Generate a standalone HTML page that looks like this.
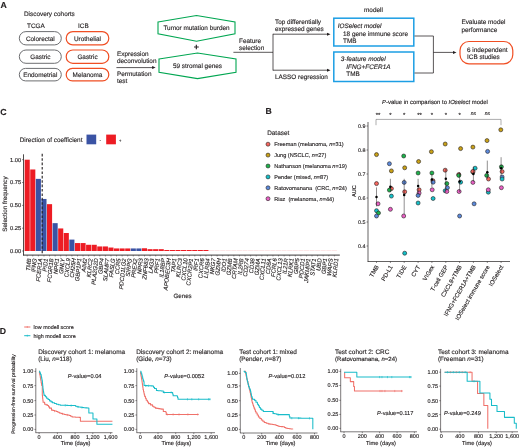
<!DOCTYPE html>
<html lang="en">
<head>
<meta charset="utf-8">
<title>Figure</title>
<style>
html,body{margin:0;padding:0;background:#fff;}
body{width:520px;height:448px;overflow:hidden;}
svg{display:block;}
svg text{font-family:"Liberation Sans",sans-serif;fill:#231f20;stroke:#231f20;stroke-width:0.14px;text-rendering:geometricPrecision;}
</style>
</head>
<body>
<svg width="520" height="448" viewBox="0 0 520 448">
<rect x="0" y="0" width="520" height="448" fill="#fff"/>
<g id="panelA">
<text x="0.5" y="7.9" font-size="8.7" font-weight="bold">A</text>
<text x="24" y="15.9" font-size="6.4">Discovery cohorts</text>
<text x="27" y="27.6" font-size="6.4">TCGA</text>
<text x="78" y="27.6" font-size="6.4">ICB</text>
<rect x="19.3" y="31.6" width="42" height="13.3" rx="6.65" fill="#fff" stroke="#6d6e71" stroke-width="1"/>
<text x="40.3" y="40.5" font-size="6.4" text-anchor="middle">Colorectal</text>
<rect x="66.2" y="31.6" width="42.6" height="13.3" rx="6.65" fill="#fff" stroke="#f04e23" stroke-width="1.2"/>
<text x="87.5" y="40.5" font-size="6.4" text-anchor="middle">Urothelial</text>
<rect x="19.3" y="50" width="42" height="13.3" rx="6.65" fill="#fff" stroke="#6d6e71" stroke-width="1"/>
<text x="40.3" y="58.9" font-size="6.4" text-anchor="middle">Gastric</text>
<rect x="66.2" y="50" width="42.6" height="13.3" rx="6.65" fill="#fff" stroke="#f04e23" stroke-width="1.2"/>
<text x="87.5" y="58.9" font-size="6.4" text-anchor="middle">Gastric</text>
<rect x="19.3" y="68.4" width="42" height="12.5" rx="6.25" fill="#fff" stroke="#6d6e71" stroke-width="1"/>
<text x="40.3" y="77.0" font-size="6.4" text-anchor="middle">Endometrial</text>
<rect x="66.2" y="68.4" width="42.6" height="12.5" rx="6.25" fill="#fff" stroke="#f04e23" stroke-width="1.2"/>
<text x="87.5" y="77.0" font-size="6.4" text-anchor="middle">Melanoma</text>
<text x="117" y="55.6" font-size="6.4">Expression</text>
<text x="117" y="63" font-size="6.4">deconvolution</text>
<line x1="116.4" y1="67.6" x2="153.6" y2="67.6" stroke="#231f20" stroke-width="0.75"/>
<polygon points="155.6,67.6 152.1,66.1 152.1,69.1" fill="#231f20"/>
<text x="117" y="76" font-size="6.4">Permutation</text>
<text x="117" y="83.2" font-size="6.4">test</text>
<polygon points="158,22 196.5,15.5 235,22 235,33.8 196.5,41.2 158,33.8" fill="#fff" stroke="#00a651" stroke-width="1.1"/>
<text x="196.5" y="30" font-size="6.4" text-anchor="middle">Tumor mutation burden</text>
<text x="196.5" y="49.6" font-size="9" text-anchor="middle" font-weight="bold">+</text>
<polygon points="159,59 197.5,53 236,59 236,72.3 197.5,78.6 159,72.3" fill="#fff" stroke="#00a651" stroke-width="1.1"/>
<text x="197.5" y="67.6" font-size="6.4" text-anchor="middle">59 stromal genes</text>
<text x="239" y="42.6" font-size="6.4">Feature</text>
<text x="239" y="50" font-size="6.4">selection</text>
<line x1="233.4" y1="52.3" x2="273" y2="52.3" stroke="#231f20" stroke-width="0.75"/>
<line x1="273" y1="33.85" x2="273" y2="70.55" stroke="#231f20" stroke-width="0.75"/>
<line x1="273" y1="34.2" x2="328.5" y2="34.2" stroke="#231f20" stroke-width="0.75"/>
<polygon points="330.5,34.2 327.0,32.7 327.0,35.7" fill="#231f20"/>
<line x1="273" y1="70.2" x2="328.5" y2="70.2" stroke="#231f20" stroke-width="0.75"/>
<polygon points="330.5,70.2 327.0,68.7 327.0,71.7" fill="#231f20"/>
<text x="275" y="23.6" font-size="6.4">Top differentially</text>
<text x="275" y="30.6" font-size="6.4">expressed genes</text>
<text x="275" y="78.8" font-size="6.4">LASSO regression</text>
<text x="364" y="12" font-size="6.4">modell</text>
<rect x="333.8" y="18.2" width="80" height="27.8" fill="#fff" stroke="#1c9ee4" stroke-width="1.5"/>
<rect x="333.8" y="52" width="80" height="29.5" fill="#fff" stroke="#1c9ee4" stroke-width="1.5"/>
<text x="337.7" y="28" font-size="6.4" font-style="italic">IOSelect model</text>
<text x="343" y="35.8" font-size="6.4">18 gene immune score</text>
<text x="343" y="43" font-size="6.4">TMB</text>
<text x="340.8" y="61.2" font-size="6.4" font-style="italic">3-feature model</text>
<text x="346.3" y="68.5" font-size="6.4" font-style="italic">IFNG+FCER1A</text>
<text x="346.3" y="76" font-size="6.4">TMB</text>
<polyline points="414.5,36 433.4,36 433.4,73 414.5,73" fill="none" stroke="#231f20" stroke-width="0.75"/>
<line x1="433.4" y1="52.4" x2="454.5" y2="52.4" stroke="#231f20" stroke-width="0.75"/>
<polygon points="456.5,52.4 453.0,50.9 453.0,53.9" fill="#231f20"/>
<text x="461.4" y="24.2" font-size="6.4">Evaluate model</text>
<text x="461.4" y="32" font-size="6.4">performance</text>
<rect x="460" y="41.5" width="52.8" height="22.3" rx="9" fill="#fff" stroke="#f04e23" stroke-width="1.2"/>
<text x="467" y="51.6" font-size="6.4">6 independent</text>
<text x="467" y="58.6" font-size="6.4">ICB studies</text>
</g>
<g id="panelC">
<text x="0.2" y="114.5" font-size="8.7" font-weight="bold">C</text>
<text x="19.7" y="142.2" font-size="6.4">Direction of coefficient</text>
<rect x="86.5" y="134.6" width="9.7" height="9.7" fill="#3a53a4"/>
<text x="100.3" y="141.5" font-size="5" text-anchor="middle">-</text>
<rect x="106.2" y="134.6" width="9.7" height="9.7" fill="#ed1c24"/>
<text x="120.2" y="141.8" font-size="4" text-anchor="middle">+</text>
<rect x="24.65" y="159.70" width="5.1" height="91.30" fill="#ed1c24"/>
<text x="31.2" y="258.6" font-size="5.9" text-anchor="end" font-style="italic" fill="#3a3a3c" transform="rotate(-84 31.2 258.6)">TMB</text>
<rect x="30.23" y="169.47" width="5.1" height="81.53" fill="#ed1c24"/>
<text x="36.78" y="258.6" font-size="5.9" text-anchor="end" font-style="italic" fill="#3a3a3c" transform="rotate(-84 36.78 258.6)">IFNG</text>
<rect x="35.82" y="178.87" width="5.1" height="72.13" fill="#3a53a4"/>
<text x="42.37" y="258.6" font-size="5.9" text-anchor="end" font-style="italic" fill="#3a3a3c" transform="rotate(-84 42.37 258.6)">FCER1A</text>
<rect x="41.41" y="198.96" width="5.1" height="52.04" fill="#3a53a4"/>
<text x="47.95" y="258.6" font-size="5.9" text-anchor="end" font-style="italic" fill="#3a3a3c" transform="rotate(-84 47.95 258.6)">PID1</text>
<rect x="46.99" y="204.16" width="5.1" height="46.84" fill="#ed1c24"/>
<text x="53.54" y="258.6" font-size="5.9" text-anchor="end" font-style="italic" fill="#3a3a3c" transform="rotate(-84 53.54 258.6)">FCGR1B</text>
<rect x="52.58" y="223.15" width="5.1" height="27.85" fill="#3a53a4"/>
<text x="59.12" y="258.6" font-size="5.9" text-anchor="end" font-style="italic" fill="#3a3a3c" transform="rotate(-84 59.12 258.6)">NPR1</text>
<rect x="58.16" y="228.45" width="5.1" height="22.55" fill="#ed1c24"/>
<text x="64.71" y="258.6" font-size="5.9" text-anchor="end" font-style="italic" fill="#3a3a3c" transform="rotate(-84 64.71 258.6)">GNLY</text>
<rect x="63.74" y="233.01" width="5.1" height="17.99" fill="#ed1c24"/>
<text x="70.3" y="258.6" font-size="5.9" text-anchor="end" font-style="italic" fill="#3a3a3c" transform="rotate(-84 70.3 258.6)">CXCL9</text>
<rect x="69.33" y="239.59" width="5.1" height="11.41" fill="#3a53a4"/>
<text x="75.88" y="258.6" font-size="5.9" text-anchor="end" font-style="italic" fill="#3a3a3c" transform="rotate(-84 75.88 258.6)">CH25H</text>
<rect x="74.91" y="243.06" width="5.1" height="7.94" fill="#ed1c24"/>
<text x="81.46" y="258.6" font-size="5.9" text-anchor="end" font-style="italic" fill="#3a3a3c" transform="rotate(-84 81.46 258.6)">GBP1P1</text>
<rect x="80.50" y="243.06" width="5.1" height="7.94" fill="#ed1c24"/>
<text x="87.05" y="258.6" font-size="5.9" text-anchor="end" font-style="italic" fill="#3a3a3c" transform="rotate(-84 87.05 258.6)">AIM2</text>
<rect x="86.09" y="244.79" width="5.1" height="6.21" fill="#ed1c24"/>
<text x="92.64" y="258.6" font-size="5.9" text-anchor="end" font-style="italic" fill="#3a3a3c" transform="rotate(-84 92.64 258.6)">KLRC2</text>
<rect x="91.67" y="244.79" width="5.1" height="6.21" fill="#ed1c24"/>
<text x="98.22" y="258.6" font-size="5.9" text-anchor="end" font-style="italic" fill="#3a3a3c" transform="rotate(-84 98.22 258.6)">PLA2G2D</text>
<rect x="97.25" y="246.44" width="5.1" height="4.57" fill="#ed1c24"/>
<text x="103.8" y="258.6" font-size="5.9" text-anchor="end" font-style="italic" fill="#3a3a3c" transform="rotate(-84 103.8 258.6)">GBP4</text>
<rect x="102.84" y="246.44" width="5.1" height="4.57" fill="#ed1c24"/>
<text x="109.39" y="258.6" font-size="5.9" text-anchor="end" font-style="italic" fill="#3a3a3c" transform="rotate(-84 109.39 258.6)">SLAMF7</text>
<rect x="108.43" y="247.53" width="5.1" height="3.47" fill="#ed1c24"/>
<text x="114.98" y="258.6" font-size="5.9" text-anchor="end" font-style="italic" fill="#3a3a3c" transform="rotate(-84 114.98 258.6)">FASLG</text>
<rect x="114.01" y="248.44" width="5.1" height="2.56" fill="#ed1c24"/>
<text x="120.56" y="258.6" font-size="5.9" text-anchor="end" font-style="italic" fill="#3a3a3c" transform="rotate(-84 120.56 258.6)">CCR5</text>
<rect x="119.59" y="248.44" width="5.1" height="2.56" fill="#ed1c24"/>
<text x="126.14" y="258.6" font-size="5.9" text-anchor="end" font-style="italic" fill="#3a3a3c" transform="rotate(-84 126.14 258.6)">PDCD1LG2</text>
<rect x="125.18" y="248.44" width="5.1" height="2.56" fill="#ed1c24"/>
<text x="131.73" y="258.6" font-size="5.9" text-anchor="end" font-style="italic" fill="#3a3a3c" transform="rotate(-84 131.73 258.6)">SIRPG</text>
<rect x="130.76" y="248.44" width="5.1" height="2.56" fill="#3a53a4"/>
<text x="137.31" y="258.6" font-size="5.9" text-anchor="end" font-style="italic" fill="#3a3a3c" transform="rotate(-84 137.31 258.6)">PREX2</text>
<rect x="136.35" y="248.44" width="5.1" height="2.56" fill="#3a53a4"/>
<text x="142.9" y="258.6" font-size="5.9" text-anchor="end" font-style="italic" fill="#3a3a3c" transform="rotate(-84 142.9 258.6)">NPR3</text>
<rect x="141.94" y="248.26" width="5.1" height="2.74" fill="#ed1c24"/>
<text x="148.49" y="258.6" font-size="5.9" text-anchor="end" font-style="italic" fill="#3a3a3c" transform="rotate(-84 148.49 258.6)">ZNF683</text>
<rect x="147.52" y="249.17" width="5.1" height="1.83" fill="#ed1c24"/>
<text x="154.07" y="258.6" font-size="5.9" text-anchor="end" font-style="italic" fill="#3a3a3c" transform="rotate(-84 154.07 258.6)">LAG3</text>
<rect x="153.11" y="249.17" width="5.1" height="1.83" fill="#ed1c24"/>
<text x="159.66" y="258.6" font-size="5.9" text-anchor="end" font-style="italic" fill="#3a3a3c" transform="rotate(-84 159.66 258.6)">PRF1</text>
<rect x="158.69" y="249.17" width="5.1" height="1.83" fill="#ed1c24"/>
<text x="165.24" y="258.6" font-size="5.9" text-anchor="end" font-style="italic" fill="#3a3a3c" transform="rotate(-84 165.24 258.6)">IL18BP</text>
<rect x="164.28" y="250.00" width="5.1" height="1.00" fill="#ed1c24"/>
<text x="170.83" y="258.6" font-size="5.9" text-anchor="end" font-style="italic" fill="#3a3a3c" transform="rotate(-84 170.83 258.6)">APOBEC3H</text>
<rect x="169.86" y="250.00" width="5.1" height="1.00" fill="#ed1c24"/>
<text x="176.41" y="258.6" font-size="5.9" text-anchor="end" font-style="italic" fill="#3a3a3c" transform="rotate(-84 176.41 258.6)">TAP1</text>
<rect x="175.44" y="250.00" width="5.1" height="1.00" fill="#ed1c24"/>
<text x="182.0" y="258.6" font-size="5.9" text-anchor="end" font-style="italic" fill="#3a3a3c" transform="rotate(-84 182.0 258.6)">KLRC3</text>
<rect x="181.03" y="250.00" width="5.1" height="1.00" fill="#ed1c24"/>
<text x="187.58" y="258.6" font-size="5.9" text-anchor="end" font-style="italic" fill="#3a3a3c" transform="rotate(-84 187.58 258.6)">CXCL10</text>
<rect x="186.62" y="250.00" width="5.1" height="1.00" fill="#ed1c24"/>
<text x="193.17" y="258.6" font-size="5.9" text-anchor="end" font-style="italic" fill="#3a3a3c" transform="rotate(-84 193.17 258.6)">CXCR2P1</text>
<rect x="192.20" y="250.00" width="5.1" height="1.00" fill="#ed1c24"/>
<text x="198.75" y="258.6" font-size="5.9" text-anchor="end" font-style="italic" fill="#3a3a3c" transform="rotate(-84 198.75 258.6)">IRF1</text>
<rect x="197.78" y="250.00" width="5.1" height="1.00" fill="#ed1c24"/>
<text x="204.34" y="258.6" font-size="5.9" text-anchor="end" font-style="italic" fill="#3a3a3c" transform="rotate(-84 204.34 258.6)">CXCR6</text>
<rect x="203.37" y="250.00" width="5.1" height="1.00" fill="#ed1c24"/>
<text x="209.92" y="258.6" font-size="5.9" text-anchor="end" font-style="italic" fill="#3a3a3c" transform="rotate(-84 209.92 258.6)">LILRB4</text>
<rect x="208.96" y="250.65" width="5.1" height="0.35" fill="#ed1c24" opacity="0.3"/>
<text x="215.51" y="258.6" font-size="5.9" text-anchor="end" font-style="italic" fill="#3a3a3c" transform="rotate(-84 215.51 258.6)">NKG7</text>
<rect x="214.54" y="250.65" width="5.1" height="0.35" fill="#ed1c24" opacity="0.3"/>
<text x="221.09" y="258.6" font-size="5.9" text-anchor="end" font-style="italic" fill="#3a3a3c" transform="rotate(-84 221.09 258.6)">GZMH</text>
<rect x="220.12" y="250.65" width="5.1" height="0.35" fill="#ed1c24" opacity="0.3"/>
<text x="226.68" y="258.6" font-size="5.9" text-anchor="end" font-style="italic" fill="#3a3a3c" transform="rotate(-84 226.68 258.6)">IDO1</text>
<rect x="225.71" y="250.65" width="5.1" height="0.35" fill="#ed1c24" opacity="0.3"/>
<text x="232.26" y="258.6" font-size="5.9" text-anchor="end" font-style="italic" fill="#3a3a3c" transform="rotate(-84 232.26 258.6)">GZMB</text>
<rect x="231.30" y="250.65" width="5.1" height="0.35" fill="#ed1c24" opacity="0.3"/>
<text x="237.85" y="258.6" font-size="5.9" text-anchor="end" font-style="italic" fill="#3a3a3c" transform="rotate(-84 237.85 258.6)">CRTAM</text>
<rect x="236.88" y="250.65" width="5.1" height="0.35" fill="#ed1c24" opacity="0.3"/>
<text x="243.43" y="258.6" font-size="5.9" text-anchor="end" font-style="italic" fill="#3a3a3c" transform="rotate(-84 243.43 258.6)">IL2RB</text>
<rect x="242.47" y="250.65" width="5.1" height="0.35" fill="#ed1c24" opacity="0.3"/>
<text x="249.02" y="258.6" font-size="5.9" text-anchor="end" font-style="italic" fill="#3a3a3c" transform="rotate(-84 249.02 258.6)">CD274</text>
<rect x="248.05" y="250.65" width="5.1" height="0.35" fill="#ed1c24" opacity="0.3"/>
<text x="254.6" y="258.6" font-size="5.9" text-anchor="end" font-style="italic" fill="#3a3a3c" transform="rotate(-84 254.6 258.6)">CD38</text>
<rect x="253.63" y="250.65" width="5.1" height="0.35" fill="#ed1c24" opacity="0.3"/>
<text x="260.19" y="258.6" font-size="5.9" text-anchor="end" font-style="italic" fill="#3a3a3c" transform="rotate(-84 260.19 258.6)">GZMA</text>
<rect x="259.22" y="250.65" width="5.1" height="0.35" fill="#ed1c24" opacity="0.3"/>
<text x="265.77" y="258.6" font-size="5.9" text-anchor="end" font-style="italic" fill="#3a3a3c" transform="rotate(-84 265.77 258.6)">CXCL11</text>
<rect x="264.81" y="250.65" width="5.1" height="0.35" fill="#ed1c24" opacity="0.3"/>
<text x="271.36" y="258.6" font-size="5.9" text-anchor="end" font-style="italic" fill="#3a3a3c" transform="rotate(-84 271.36 258.6)">CD8A</text>
<rect x="270.39" y="250.65" width="5.1" height="0.35" fill="#ed1c24" opacity="0.3"/>
<text x="276.94" y="258.6" font-size="5.9" text-anchor="end" font-style="italic" fill="#3a3a3c" transform="rotate(-84 276.94 258.6)">FCRL6</text>
<rect x="275.97" y="250.65" width="5.1" height="0.35" fill="#ed1c24" opacity="0.3"/>
<text x="282.52" y="258.6" font-size="5.9" text-anchor="end" font-style="italic" fill="#3a3a3c" transform="rotate(-84 282.52 258.6)">CXCL13</text>
<rect x="281.56" y="250.65" width="5.1" height="0.35" fill="#ed1c24" opacity="0.3"/>
<text x="288.11" y="258.6" font-size="5.9" text-anchor="end" font-style="italic" fill="#3a3a3c" transform="rotate(-84 288.11 258.6)">IL21R</text>
<rect x="287.14" y="250.65" width="5.1" height="0.35" fill="#ed1c24" opacity="0.3"/>
<text x="293.69" y="258.6" font-size="5.9" text-anchor="end" font-style="italic" fill="#3a3a3c" transform="rotate(-84 293.69 258.6)">KLRK1</text>
<rect x="292.73" y="250.65" width="5.1" height="0.35" fill="#ed1c24" opacity="0.3"/>
<text x="299.28" y="258.6" font-size="5.9" text-anchor="end" font-style="italic" fill="#3a3a3c" transform="rotate(-84 299.28 258.6)">GBP5</text>
<rect x="298.31" y="250.65" width="5.1" height="0.35" fill="#ed1c24" opacity="0.3"/>
<text x="304.87" y="258.6" font-size="5.9" text-anchor="end" font-style="italic" fill="#3a3a3c" transform="rotate(-84 304.87 258.6)">PDCD1</text>
<rect x="303.90" y="250.65" width="5.1" height="0.35" fill="#ed1c24" opacity="0.3"/>
<text x="310.45" y="258.6" font-size="5.9" text-anchor="end" font-style="italic" fill="#3a3a3c" transform="rotate(-84 310.45 258.6)">JAKMIP1</text>
<rect x="309.48" y="250.65" width="5.1" height="0.35" fill="#ed1c24" opacity="0.3"/>
<text x="316.03" y="258.6" font-size="5.9" text-anchor="end" font-style="italic" fill="#3a3a3c" transform="rotate(-84 316.03 258.6)">STAT1</text>
<rect x="315.07" y="250.65" width="5.1" height="0.35" fill="#ed1c24" opacity="0.3"/>
<text x="321.62" y="258.6" font-size="5.9" text-anchor="end" font-style="italic" fill="#3a3a3c" transform="rotate(-84 321.62 258.6)">UBD</text>
<rect x="320.65" y="250.65" width="5.1" height="0.35" fill="#ed1c24" opacity="0.3"/>
<text x="327.2" y="258.6" font-size="5.9" text-anchor="end" font-style="italic" fill="#3a3a3c" transform="rotate(-84 327.2 258.6)">GBP1</text>
<rect x="326.24" y="250.65" width="5.1" height="0.35" fill="#ed1c24" opacity="0.3"/>
<text x="332.79" y="258.6" font-size="5.9" text-anchor="end" font-style="italic" fill="#3a3a3c" transform="rotate(-84 332.79 258.6)">WARS</text>
<rect x="331.82" y="250.65" width="5.1" height="0.35" fill="#ed1c24" opacity="0.3"/>
<text x="338.38" y="258.6" font-size="5.9" text-anchor="end" font-style="italic" fill="#3a3a3c" transform="rotate(-84 338.38 258.6)">KLRD1</text>
<line x1="42.2" y1="153.8" x2="42.2" y2="255.1" stroke="#231f20" stroke-width="1.1" stroke-dasharray="2.6 1.8"/>
<line x1="23.5" y1="154.3" x2="23.5" y2="255.4" stroke="#231f20" stroke-width="0.8"/>
<line x1="23.1" y1="255.1" x2="339.8" y2="255.1" stroke="#231f20" stroke-width="0.9"/>
<line x1="22" y1="159.7" x2="23.5" y2="159.7" stroke="#231f20" stroke-width="0.5"/>
<text x="21.3" y="161.6" font-size="5.8" text-anchor="end" fill="#4d4d4f">1.00</text>
<line x1="22" y1="182.525" x2="23.5" y2="182.525" stroke="#231f20" stroke-width="0.5"/>
<text x="21.3" y="184.43" font-size="5.8" text-anchor="end" fill="#4d4d4f">0.75</text>
<line x1="22" y1="205.35" x2="23.5" y2="205.35" stroke="#231f20" stroke-width="0.5"/>
<text x="21.3" y="207.25" font-size="5.8" text-anchor="end" fill="#4d4d4f">0.50</text>
<line x1="22" y1="228.175" x2="23.5" y2="228.175" stroke="#231f20" stroke-width="0.5"/>
<text x="21.3" y="230.08" font-size="5.8" text-anchor="end" fill="#4d4d4f">0.25</text>
<line x1="22" y1="251.0" x2="23.5" y2="251.0" stroke="#231f20" stroke-width="0.5"/>
<text x="21.3" y="252.9" font-size="5.8" text-anchor="end" fill="#4d4d4f">0.00</text>
<line x1="27.2" y1="255.1" x2="27.2" y2="256.5" stroke="#231f20" stroke-width="0.4"/>
<line x1="32.78" y1="255.1" x2="32.78" y2="256.5" stroke="#231f20" stroke-width="0.4"/>
<line x1="38.37" y1="255.1" x2="38.37" y2="256.5" stroke="#231f20" stroke-width="0.4"/>
<line x1="43.95" y1="255.1" x2="43.95" y2="256.5" stroke="#231f20" stroke-width="0.4"/>
<line x1="49.54" y1="255.1" x2="49.54" y2="256.5" stroke="#231f20" stroke-width="0.4"/>
<line x1="55.12" y1="255.1" x2="55.12" y2="256.5" stroke="#231f20" stroke-width="0.4"/>
<line x1="60.71" y1="255.1" x2="60.71" y2="256.5" stroke="#231f20" stroke-width="0.4"/>
<line x1="66.3" y1="255.1" x2="66.3" y2="256.5" stroke="#231f20" stroke-width="0.4"/>
<line x1="71.88" y1="255.1" x2="71.88" y2="256.5" stroke="#231f20" stroke-width="0.4"/>
<line x1="77.46" y1="255.1" x2="77.46" y2="256.5" stroke="#231f20" stroke-width="0.4"/>
<line x1="83.05" y1="255.1" x2="83.05" y2="256.5" stroke="#231f20" stroke-width="0.4"/>
<line x1="88.64" y1="255.1" x2="88.64" y2="256.5" stroke="#231f20" stroke-width="0.4"/>
<line x1="94.22" y1="255.1" x2="94.22" y2="256.5" stroke="#231f20" stroke-width="0.4"/>
<line x1="99.8" y1="255.1" x2="99.8" y2="256.5" stroke="#231f20" stroke-width="0.4"/>
<line x1="105.39" y1="255.1" x2="105.39" y2="256.5" stroke="#231f20" stroke-width="0.4"/>
<line x1="110.98" y1="255.1" x2="110.98" y2="256.5" stroke="#231f20" stroke-width="0.4"/>
<line x1="116.56" y1="255.1" x2="116.56" y2="256.5" stroke="#231f20" stroke-width="0.4"/>
<line x1="122.14" y1="255.1" x2="122.14" y2="256.5" stroke="#231f20" stroke-width="0.4"/>
<line x1="127.73" y1="255.1" x2="127.73" y2="256.5" stroke="#231f20" stroke-width="0.4"/>
<line x1="133.31" y1="255.1" x2="133.31" y2="256.5" stroke="#231f20" stroke-width="0.4"/>
<line x1="138.9" y1="255.1" x2="138.9" y2="256.5" stroke="#231f20" stroke-width="0.4"/>
<line x1="144.49" y1="255.1" x2="144.49" y2="256.5" stroke="#231f20" stroke-width="0.4"/>
<line x1="150.07" y1="255.1" x2="150.07" y2="256.5" stroke="#231f20" stroke-width="0.4"/>
<line x1="155.66" y1="255.1" x2="155.66" y2="256.5" stroke="#231f20" stroke-width="0.4"/>
<line x1="161.24" y1="255.1" x2="161.24" y2="256.5" stroke="#231f20" stroke-width="0.4"/>
<line x1="166.83" y1="255.1" x2="166.83" y2="256.5" stroke="#231f20" stroke-width="0.4"/>
<line x1="172.41" y1="255.1" x2="172.41" y2="256.5" stroke="#231f20" stroke-width="0.4"/>
<line x1="178.0" y1="255.1" x2="178.0" y2="256.5" stroke="#231f20" stroke-width="0.4"/>
<line x1="183.58" y1="255.1" x2="183.58" y2="256.5" stroke="#231f20" stroke-width="0.4"/>
<line x1="189.17" y1="255.1" x2="189.17" y2="256.5" stroke="#231f20" stroke-width="0.4"/>
<line x1="194.75" y1="255.1" x2="194.75" y2="256.5" stroke="#231f20" stroke-width="0.4"/>
<line x1="200.34" y1="255.1" x2="200.34" y2="256.5" stroke="#231f20" stroke-width="0.4"/>
<line x1="205.92" y1="255.1" x2="205.92" y2="256.5" stroke="#231f20" stroke-width="0.4"/>
<line x1="211.51" y1="255.1" x2="211.51" y2="256.5" stroke="#231f20" stroke-width="0.4"/>
<line x1="217.09" y1="255.1" x2="217.09" y2="256.5" stroke="#231f20" stroke-width="0.4"/>
<line x1="222.68" y1="255.1" x2="222.68" y2="256.5" stroke="#231f20" stroke-width="0.4"/>
<line x1="228.26" y1="255.1" x2="228.26" y2="256.5" stroke="#231f20" stroke-width="0.4"/>
<line x1="233.85" y1="255.1" x2="233.85" y2="256.5" stroke="#231f20" stroke-width="0.4"/>
<line x1="239.43" y1="255.1" x2="239.43" y2="256.5" stroke="#231f20" stroke-width="0.4"/>
<line x1="245.02" y1="255.1" x2="245.02" y2="256.5" stroke="#231f20" stroke-width="0.4"/>
<line x1="250.6" y1="255.1" x2="250.6" y2="256.5" stroke="#231f20" stroke-width="0.4"/>
<line x1="256.19" y1="255.1" x2="256.19" y2="256.5" stroke="#231f20" stroke-width="0.4"/>
<line x1="261.77" y1="255.1" x2="261.77" y2="256.5" stroke="#231f20" stroke-width="0.4"/>
<line x1="267.36" y1="255.1" x2="267.36" y2="256.5" stroke="#231f20" stroke-width="0.4"/>
<line x1="272.94" y1="255.1" x2="272.94" y2="256.5" stroke="#231f20" stroke-width="0.4"/>
<line x1="278.52" y1="255.1" x2="278.52" y2="256.5" stroke="#231f20" stroke-width="0.4"/>
<line x1="284.11" y1="255.1" x2="284.11" y2="256.5" stroke="#231f20" stroke-width="0.4"/>
<line x1="289.69" y1="255.1" x2="289.69" y2="256.5" stroke="#231f20" stroke-width="0.4"/>
<line x1="295.28" y1="255.1" x2="295.28" y2="256.5" stroke="#231f20" stroke-width="0.4"/>
<line x1="300.87" y1="255.1" x2="300.87" y2="256.5" stroke="#231f20" stroke-width="0.4"/>
<line x1="306.45" y1="255.1" x2="306.45" y2="256.5" stroke="#231f20" stroke-width="0.4"/>
<line x1="312.03" y1="255.1" x2="312.03" y2="256.5" stroke="#231f20" stroke-width="0.4"/>
<line x1="317.62" y1="255.1" x2="317.62" y2="256.5" stroke="#231f20" stroke-width="0.4"/>
<line x1="323.2" y1="255.1" x2="323.2" y2="256.5" stroke="#231f20" stroke-width="0.4"/>
<line x1="328.79" y1="255.1" x2="328.79" y2="256.5" stroke="#231f20" stroke-width="0.4"/>
<line x1="334.38" y1="255.1" x2="334.38" y2="256.5" stroke="#231f20" stroke-width="0.4"/>
<text x="6.8" y="204" font-size="6.3" text-anchor="middle" transform="rotate(-90 6.8 204)">Selection frequency</text>
<text x="182.6" y="297.6" font-size="6.2" text-anchor="middle">Genes</text>
</g>
<g id="panelB">
<text x="265.4" y="114.2" font-size="8.7" font-weight="bold">B</text>
<text x="435" y="104.2" font-size="5.9" text-anchor="middle"><tspan font-style="italic">P</tspan>-value in comparison to <tspan font-style="italic">IOselect</tspan> model</text>
<text x="267.2" y="135.4" font-size="6.4">Dataset</text>
<circle cx="268" cy="144.2" r="2.0" fill="#F5675F" stroke="#231f20" stroke-width="0.6"/>
<text x="274.2" y="146.1" font-size="5.6" fill="#3a3a3c">Freeman (melanoma, <tspan font-style="italic">n</tspan>=31)</text>
<circle cx="268" cy="155.1" r="2.0" fill="#C9A117" stroke="#231f20" stroke-width="0.6"/>
<text x="274.2" y="157.0" font-size="5.6" fill="#3a3a3c">Jung (NSCLC, <tspan font-style="italic">n</tspan>=27)</text>
<circle cx="268" cy="166.0" r="2.0" fill="#1DB34C" stroke="#231f20" stroke-width="0.6"/>
<text x="274.2" y="167.9" font-size="5.6" fill="#3a3a3c">Nathanson (melanoma <tspan font-style="italic">n</tspan>=19)</text>
<circle cx="268" cy="176.9" r="2.0" fill="#14C0C8" stroke="#231f20" stroke-width="0.6"/>
<text x="274.2" y="178.8" font-size="5.6" fill="#3a3a3c">Pender (mixed, <tspan font-style="italic">n</tspan>=87)</text>
<circle cx="268" cy="187.8" r="2.0" fill="#5B8ADB" stroke="#231f20" stroke-width="0.6"/>
<text x="274.2" y="189.7" font-size="5.6" fill="#3a3a3c">Ratovomanana&#160; (CRC, <tspan font-style="italic">n</tspan>=24)</text>
<circle cx="268" cy="198.7" r="2.0" fill="#E860C4" stroke="#231f20" stroke-width="0.6"/>
<text x="274.2" y="200.6" font-size="5.6" fill="#3a3a3c">Riaz&#160; (melanoma, <tspan font-style="italic">n</tspan>=44)</text>
<line x1="368" y1="122" x2="368" y2="261.8" stroke="#231f20" stroke-width="0.7"/>
<line x1="367.7" y1="261.5" x2="510" y2="261.5" stroke="#231f20" stroke-width="0.7"/>
<line x1="366.5" y1="126.0" x2="368" y2="126.0" stroke="#231f20" stroke-width="0.5"/>
<text x="365.4" y="127.9" font-size="5.4" text-anchor="end" fill="#3a3a3c">0.9</text>
<line x1="366.5" y1="150.0" x2="368" y2="150.0" stroke="#231f20" stroke-width="0.5"/>
<text x="365.4" y="151.9" font-size="5.4" text-anchor="end" fill="#3a3a3c">0.8</text>
<line x1="366.5" y1="174.0" x2="368" y2="174.0" stroke="#231f20" stroke-width="0.5"/>
<text x="365.4" y="175.9" font-size="5.4" text-anchor="end" fill="#3a3a3c">0.7</text>
<line x1="366.5" y1="198.0" x2="368" y2="198.0" stroke="#231f20" stroke-width="0.5"/>
<text x="365.4" y="199.9" font-size="5.4" text-anchor="end" fill="#3a3a3c">0.6</text>
<line x1="366.5" y1="222.0" x2="368" y2="222.0" stroke="#231f20" stroke-width="0.5"/>
<text x="365.4" y="223.9" font-size="5.4" text-anchor="end" fill="#3a3a3c">0.5</text>
<line x1="366.5" y1="246.0" x2="368" y2="246.0" stroke="#231f20" stroke-width="0.5"/>
<text x="365.4" y="247.9" font-size="5.4" text-anchor="end" fill="#3a3a3c">0.4</text>
<text x="356" y="191" font-size="5.6" text-anchor="middle" transform="rotate(-90 356 191)">AUC</text>
<line x1="376.5" y1="261.5" x2="376.5" y2="263" stroke="#231f20" stroke-width="0.5"/>
<text x="379.0" y="266.8" font-size="6.0" text-anchor="end" fill="#2e2e30" transform="rotate(-60 379.0 266.8)">TMB</text>
<line x1="390.4" y1="261.5" x2="390.4" y2="263" stroke="#231f20" stroke-width="0.5"/>
<text x="392.9" y="266.8" font-size="6.0" text-anchor="end" fill="#2e2e30" transform="rotate(-60 392.9 266.8)">PD-L1</text>
<line x1="404.2" y1="261.5" x2="404.2" y2="263" stroke="#231f20" stroke-width="0.5"/>
<text x="406.7" y="266.8" font-size="6.0" text-anchor="end" fill="#2e2e30" transform="rotate(-60 406.7 266.8)">TIDE</text>
<line x1="418.1" y1="261.5" x2="418.1" y2="263" stroke="#231f20" stroke-width="0.5"/>
<text x="420.6" y="266.8" font-size="6.0" text-anchor="end" fill="#2e2e30" transform="rotate(-60 420.6 266.8)">CYT</text>
<line x1="431.9" y1="261.5" x2="431.9" y2="263" stroke="#231f20" stroke-width="0.5"/>
<text x="434.4" y="266.8" font-size="6.0" text-anchor="end" fill="#2e2e30" transform="rotate(-60 434.4 266.8)">VIGex</text>
<line x1="445.8" y1="261.5" x2="445.8" y2="263" stroke="#231f20" stroke-width="0.5"/>
<text x="448.2" y="266.8" font-size="6.0" text-anchor="end" fill="#2e2e30" transform="rotate(-60 448.2 266.8)">T-cell GEP</text>
<line x1="459.6" y1="261.5" x2="459.6" y2="263" stroke="#231f20" stroke-width="0.5"/>
<text x="462.1" y="266.8" font-size="6.0" text-anchor="end" fill="#2e2e30" transform="rotate(-60 462.1 266.8)">CXCL9+TMB</text>
<line x1="473.4" y1="261.5" x2="473.4" y2="263" stroke="#231f20" stroke-width="0.5"/>
<text x="475.9" y="266.8" font-size="6.0" text-anchor="end" fill="#2e2e30" transform="rotate(-60 475.9 266.8)">IFNG+FCER1A+TMB</text>
<line x1="487.3" y1="261.5" x2="487.3" y2="263" stroke="#231f20" stroke-width="0.5"/>
<text x="489.8" y="266.8" font-size="6.0" text-anchor="end" fill="#2e2e30" transform="rotate(-60 489.8 266.8)">IOSelect immune score</text>
<line x1="501.1" y1="261.5" x2="501.1" y2="263" stroke="#231f20" stroke-width="0.5"/>
<text x="503.6" y="266.8" font-size="6.0" text-anchor="end" fill="#2e2e30" transform="rotate(-60 503.6 266.8)">IOSelect</text>
<polyline points="376,125.2 376,119.4 501,119.4 501,125.2" fill="none" stroke="#58595b" stroke-width="0.5"/>
<text x="378.0" y="117.2" font-size="6" text-anchor="middle" fill="#3a3a3c">**</text>
<text x="390.4" y="117.2" font-size="6" text-anchor="middle" fill="#3a3a3c">*</text>
<text x="404.2" y="117.2" font-size="6" text-anchor="middle" fill="#3a3a3c">*</text>
<text x="419.6" y="117.2" font-size="6" text-anchor="middle" fill="#3a3a3c">**</text>
<text x="431.9" y="117.2" font-size="6" text-anchor="middle" fill="#3a3a3c">*</text>
<text x="445.8" y="117.2" font-size="6" text-anchor="middle" fill="#3a3a3c">*</text>
<text x="459.6" y="117.2" font-size="6" text-anchor="middle" fill="#3a3a3c">*</text>
<text x="473.4" y="115.2" font-size="5" text-anchor="middle" font-style="italic" fill="#3a3a3c">ns</text>
<text x="487.3" y="115.2" font-size="5" text-anchor="middle" font-style="italic" fill="#3a3a3c">ns</text>
<circle cx="376.5" cy="154.6" r="2.0" fill="#C9A117" stroke="#231f20" stroke-width="0.6"/>
<circle cx="376.5" cy="183.6" r="2.0" fill="#F5675F" stroke="#231f20" stroke-width="0.6"/>
<circle cx="378.0" cy="203.8" r="2.0" fill="#E860C4" stroke="#231f20" stroke-width="0.6"/>
<circle cx="376.5" cy="210.7" r="2.0" fill="#14C0C8" stroke="#231f20" stroke-width="0.6"/>
<circle cx="378.5" cy="213.0" r="2.0" fill="#1DB34C" stroke="#231f20" stroke-width="0.6"/>
<circle cx="376.5" cy="216.0" r="2.0" fill="#5B8ADB" stroke="#231f20" stroke-width="0.6"/>
<line x1="376.5" y1="206.4" x2="376.5" y2="187.4" stroke="#231f20" stroke-width="0.5"/>
<circle cx="376.5" cy="197.0" r="1.25" fill="#000"/>
<circle cx="389.4" cy="163.7" r="2.0" fill="#5B8ADB" stroke="#231f20" stroke-width="0.6"/>
<circle cx="391.4" cy="170.9" r="2.0" fill="#C9A117" stroke="#231f20" stroke-width="0.6"/>
<circle cx="391.4" cy="188.6" r="2.0" fill="#F5675F" stroke="#231f20" stroke-width="0.6"/>
<circle cx="389.4" cy="190.1" r="2.0" fill="#1DB34C" stroke="#231f20" stroke-width="0.6"/>
<circle cx="391.4" cy="196.1" r="2.0" fill="#14C0C8" stroke="#231f20" stroke-width="0.6"/>
<circle cx="390.4" cy="209.3" r="2.0" fill="#E860C4" stroke="#231f20" stroke-width="0.6"/>
<line x1="390.4" y1="192.0" x2="390.4" y2="178.8" stroke="#231f20" stroke-width="0.5"/>
<circle cx="390.4" cy="186.7" r="1.25" fill="#000"/>
<circle cx="403.7" cy="156.0" r="2.0" fill="#1DB34C" stroke="#231f20" stroke-width="0.6"/>
<circle cx="404.7" cy="167.8" r="2.0" fill="#C9A117" stroke="#231f20" stroke-width="0.6"/>
<circle cx="404.2" cy="182.4" r="2.0" fill="#5B8ADB" stroke="#231f20" stroke-width="0.6"/>
<circle cx="404.7" cy="191.8" r="2.0" fill="#F5675F" stroke="#231f20" stroke-width="0.6"/>
<circle cx="403.7" cy="216.0" r="2.0" fill="#E860C4" stroke="#231f20" stroke-width="0.6"/>
<circle cx="404.7" cy="253.2" r="2.0" fill="#14C0C8" stroke="#231f20" stroke-width="0.6"/>
<line x1="404.2" y1="214.1" x2="404.2" y2="178.8" stroke="#231f20" stroke-width="0.5"/>
<circle cx="404.2" cy="194.9" r="1.25" fill="#000"/>
<circle cx="418.6" cy="161.5" r="2.0" fill="#C9A117" stroke="#231f20" stroke-width="0.6"/>
<circle cx="418.1" cy="173.0" r="2.0" fill="#1DB34C" stroke="#231f20" stroke-width="0.6"/>
<circle cx="419.1" cy="189.8" r="2.0" fill="#F5675F" stroke="#231f20" stroke-width="0.6"/>
<circle cx="419.1" cy="193.0" r="2.0" fill="#E860C4" stroke="#231f20" stroke-width="0.6"/>
<circle cx="418.1" cy="195.4" r="2.0" fill="#5B8ADB" stroke="#231f20" stroke-width="0.6"/>
<circle cx="418.1" cy="203.0" r="2.0" fill="#14C0C8" stroke="#231f20" stroke-width="0.6"/>
<line x1="418.1" y1="194.9" x2="418.1" y2="178.8" stroke="#231f20" stroke-width="0.5"/>
<circle cx="418.1" cy="186.0" r="1.25" fill="#000"/>
<circle cx="431.4" cy="151.7" r="2.0" fill="#C9A117" stroke="#231f20" stroke-width="0.6"/>
<circle cx="431.9" cy="173.0" r="2.0" fill="#1DB34C" stroke="#231f20" stroke-width="0.6"/>
<circle cx="432.9" cy="180.7" r="2.0" fill="#F5675F" stroke="#231f20" stroke-width="0.6"/>
<circle cx="433.1" cy="182.2" r="2.0" fill="#5B8ADB" stroke="#231f20" stroke-width="0.6"/>
<circle cx="432.2" cy="189.8" r="2.0" fill="#E860C4" stroke="#231f20" stroke-width="0.6"/>
<circle cx="433.1" cy="198.5" r="2.0" fill="#14C0C8" stroke="#231f20" stroke-width="0.6"/>
<line x1="431.9" y1="187.2" x2="431.9" y2="174.0" stroke="#231f20" stroke-width="0.5"/>
<circle cx="431.9" cy="179.5" r="1.25" fill="#000"/>
<circle cx="445.2" cy="144.0" r="2.0" fill="#C9A117" stroke="#231f20" stroke-width="0.6"/>
<circle cx="445.2" cy="170.2" r="2.0" fill="#F5675F" stroke="#231f20" stroke-width="0.6"/>
<circle cx="446.8" cy="183.6" r="2.0" fill="#1DB34C" stroke="#231f20" stroke-width="0.6"/>
<circle cx="447.4" cy="187.7" r="2.0" fill="#5B8ADB" stroke="#231f20" stroke-width="0.6"/>
<circle cx="445.2" cy="190.8" r="2.0" fill="#14C0C8" stroke="#231f20" stroke-width="0.6"/>
<circle cx="446.8" cy="191.5" r="2.0" fill="#E860C4" stroke="#231f20" stroke-width="0.6"/>
<line x1="445.8" y1="192.0" x2="445.8" y2="168.7" stroke="#231f20" stroke-width="0.5"/>
<circle cx="445.8" cy="178.8" r="1.25" fill="#000"/>
<circle cx="460.6" cy="148.6" r="2.0" fill="#C9A117" stroke="#231f20" stroke-width="0.6"/>
<circle cx="458.8" cy="174.5" r="2.0" fill="#F5675F" stroke="#231f20" stroke-width="0.6"/>
<circle cx="458.8" cy="175.4" r="2.0" fill="#1DB34C" stroke="#231f20" stroke-width="0.6"/>
<circle cx="460.6" cy="182.2" r="2.0" fill="#14C0C8" stroke="#231f20" stroke-width="0.6"/>
<circle cx="459.1" cy="191.5" r="2.0" fill="#E860C4" stroke="#231f20" stroke-width="0.6"/>
<circle cx="459.6" cy="216.0" r="2.0" fill="#5B8ADB" stroke="#231f20" stroke-width="0.6"/>
<line x1="459.6" y1="192.0" x2="459.6" y2="172.1" stroke="#231f20" stroke-width="0.5"/>
<circle cx="459.6" cy="181.4" r="1.25" fill="#000"/>
<circle cx="472.9" cy="147.1" r="2.0" fill="#C9A117" stroke="#231f20" stroke-width="0.6"/>
<circle cx="472.9" cy="172.1" r="2.0" fill="#1DB34C" stroke="#231f20" stroke-width="0.6"/>
<circle cx="475.1" cy="168.2" r="2.0" fill="#14C0C8" stroke="#231f20" stroke-width="0.6"/>
<circle cx="472.9" cy="171.4" r="2.0" fill="#F5675F" stroke="#231f20" stroke-width="0.6"/>
<circle cx="472.9" cy="182.4" r="2.0" fill="#E860C4" stroke="#231f20" stroke-width="0.6"/>
<circle cx="474.1" cy="203.8" r="2.0" fill="#5B8ADB" stroke="#231f20" stroke-width="0.6"/>
<line x1="473.4" y1="181.7" x2="473.4" y2="166.8" stroke="#231f20" stroke-width="0.5"/>
<circle cx="473.4" cy="174.0" r="1.25" fill="#000"/>
<circle cx="487.0" cy="140.6" r="2.0" fill="#C9A117" stroke="#231f20" stroke-width="0.6"/>
<circle cx="487.6" cy="151.4" r="2.0" fill="#5B8ADB" stroke="#231f20" stroke-width="0.6"/>
<circle cx="486.7" cy="175.4" r="2.0" fill="#1DB34C" stroke="#231f20" stroke-width="0.6"/>
<circle cx="488.5" cy="179.0" r="2.0" fill="#F5675F" stroke="#231f20" stroke-width="0.6"/>
<circle cx="488.3" cy="192.2" r="2.0" fill="#14C0C8" stroke="#231f20" stroke-width="0.6"/>
<circle cx="488.3" cy="189.8" r="2.0" fill="#E860C4" stroke="#231f20" stroke-width="0.6"/>
<line x1="487.3" y1="178.8" x2="487.3" y2="160.6" stroke="#231f20" stroke-width="0.5"/>
<circle cx="487.3" cy="172.3" r="1.25" fill="#000"/>
<circle cx="500.8" cy="129.8" r="2.0" fill="#C9A117" stroke="#231f20" stroke-width="0.6"/>
<circle cx="501.4" cy="166.8" r="2.0" fill="#1DB34C" stroke="#231f20" stroke-width="0.6"/>
<circle cx="502.1" cy="171.6" r="2.0" fill="#F5675F" stroke="#231f20" stroke-width="0.6"/>
<circle cx="502.1" cy="177.0" r="2.0" fill="#5B8ADB" stroke="#231f20" stroke-width="0.6"/>
<circle cx="502.1" cy="179.0" r="2.0" fill="#14C0C8" stroke="#231f20" stroke-width="0.6"/>
<circle cx="501.4" cy="187.7" r="2.0" fill="#E860C4" stroke="#231f20" stroke-width="0.6"/>
<line x1="501.1" y1="175.7" x2="501.1" y2="157.2" stroke="#231f20" stroke-width="0.5"/>
<circle cx="501.1" cy="168.2" r="1.25" fill="#000"/>
</g>
<g id="panelD">
<text x="-0.3" y="334.2" font-size="8.7" font-weight="bold">D</text>
<line x1="24.2" y1="327" x2="30.4" y2="327" stroke="#F0716A" stroke-width="1.0"/>
<line x1="27.3" y1="326" x2="27.3" y2="328" stroke="#F0716A" stroke-width="0.6"/>
<text x="33.6" y="328.8" font-size="5.4">low modell score</text>
<line x1="24.2" y1="335.7" x2="30.4" y2="335.7" stroke="#19BCC9" stroke-width="1.0"/>
<line x1="27.3" y1="334.7" x2="27.3" y2="336.7" stroke="#19BCC9" stroke-width="0.6"/>
<text x="33.6" y="337.5" font-size="5.4">high modell score</text>
<text x="14.8" y="394" font-size="5.0" text-anchor="middle" fill="#2e2e30" transform="rotate(-90 14.8 394)">Progression-free survival probability</text>
<line x1="35.8" y1="368.2" x2="35.8" y2="432.7" stroke="#231f20" stroke-width="0.6"/>
<line x1="35.5" y1="432.7" x2="112.5" y2="432.7" stroke="#231f20" stroke-width="0.6"/>
<line x1="34.4" y1="371.4" x2="35.8" y2="371.4" stroke="#231f20" stroke-width="0.5"/>
<text x="33.4" y="373.3" font-size="5.5" text-anchor="end" fill="#2e2e30">1.00</text>
<line x1="34.4" y1="385.6" x2="35.8" y2="385.6" stroke="#231f20" stroke-width="0.5"/>
<text x="33.4" y="387.5" font-size="5.5" text-anchor="end" fill="#2e2e30">0.75</text>
<line x1="34.4" y1="400.6" x2="35.8" y2="400.6" stroke="#231f20" stroke-width="0.5"/>
<text x="33.4" y="402.5" font-size="5.5" text-anchor="end" fill="#2e2e30">0.50</text>
<line x1="34.4" y1="415" x2="35.8" y2="415" stroke="#231f20" stroke-width="0.5"/>
<text x="33.4" y="416.9" font-size="5.5" text-anchor="end" fill="#2e2e30">0.25</text>
<line x1="34.4" y1="429.4" x2="35.8" y2="429.4" stroke="#231f20" stroke-width="0.5"/>
<text x="33.4" y="431.3" font-size="5.5" text-anchor="end" fill="#2e2e30">0.00</text>
<line x1="39.1" y1="432.7" x2="39.1" y2="434.09999999999997" stroke="#231f20" stroke-width="0.5"/>
<text x="39.1" y="438.6" font-size="5.5" text-anchor="middle" fill="#2e2e30">0</text>
<line x1="57.4" y1="432.7" x2="57.4" y2="434.09999999999997" stroke="#231f20" stroke-width="0.5"/>
<text x="57.4" y="438.6" font-size="5.5" text-anchor="middle" fill="#2e2e30">400</text>
<line x1="75.1" y1="432.7" x2="75.1" y2="434.09999999999997" stroke="#231f20" stroke-width="0.5"/>
<text x="75.1" y="438.6" font-size="5.5" text-anchor="middle" fill="#2e2e30">800</text>
<line x1="92.8" y1="432.7" x2="92.8" y2="434.09999999999997" stroke="#231f20" stroke-width="0.5"/>
<text x="92.8" y="438.6" font-size="5.5" text-anchor="middle" fill="#2e2e30">1,200</text>
<line x1="110.6" y1="432.7" x2="110.6" y2="434.09999999999997" stroke="#231f20" stroke-width="0.5"/>
<text x="110.6" y="438.6" font-size="5.5" text-anchor="middle" fill="#2e2e30">1,600</text>
<text x="75.6" y="445" font-size="5.7" text-anchor="middle">Time (days)</text>
<text x="38.2" y="353.8" font-size="6.45">Discovery cohort 1: melanoma</text>
<text x="38.2" y="361.3" font-size="6.35">(Liu, <tspan font-style="italic">n</tspan>=118)</text>
<text x="67.8" y="377.9" font-size="5.7"><tspan font-style="italic">P</tspan>-value=0.04</text>
<polyline points="39.15,371.39 39.44,371.39 39.44,372.97 39.73,372.97 39.73,374.54 40.03,374.54 40.03,376.11 40.32,376.11 40.32,377.68 40.60,377.68 40.60,379.25 40.87,379.25 40.87,380.83 41.15,380.83 41.15,382.40 41.42,382.40 41.42,383.97 41.70,383.97 41.70,385.54 42.29,385.54 42.29,395.36 42.49,395.36 42.49,397.08 42.68,397.08 42.68,398.80 42.88,398.80 42.88,400.52 43.07,400.52 43.07,402.24 44.65,402.24 44.65,404.20 46.12,404.20 46.12,404.89 47.59,404.89 47.59,405.58 48.58,405.58 48.58,406.86 49.56,406.86 49.56,408.13 51.52,408.13 51.52,410.10 53.16,410.10 53.16,410.56 54.80,410.56 54.80,411.02 56.43,411.02 56.43,411.47 57.91,411.47 57.91,412.26 59.38,412.26 59.38,413.05 61.02,413.05 61.02,413.50 62.66,413.50 62.66,413.96 64.29,413.96 64.29,414.42 65.93,414.42 65.93,414.75 67.57,414.75 67.57,415.08 69.20,415.08 69.20,415.40 70.68,415.40 70.68,416.19 72.15,416.19 72.15,416.97 73.87,416.97 73.87,417.07 75.59,417.07 75.59,417.17 77.31,417.17 77.31,417.27 79.03,417.27 79.03,417.37 80.40,417.37 80.40,417.37 80.40,417.37 80.40,421.30 112.43,421.30 112.43,421.30" fill="none" stroke="#F0716A" stroke-width="1.05" stroke-linejoin="round"/>
<line x1="54.47" y1="409.98" x2="54.47" y2="412.18" stroke="#F0716A" stroke-width="0.6"/>
<line x1="62.33" y1="412.73" x2="62.33" y2="414.93" stroke="#F0716A" stroke-width="0.6"/>
<line x1="67.24" y1="413.91" x2="67.24" y2="416.11" stroke="#F0716A" stroke-width="0.6"/>
<polyline points="39.15,371.39 39.80,371.39 39.80,372.84 40.46,372.84 40.46,374.28 41.11,374.28 41.11,375.72 41.40,375.72 41.40,377.19 41.70,377.19 41.70,378.66 41.99,378.66 41.99,380.14 42.29,380.14 42.29,381.61 42.45,381.61 42.45,383.18 42.60,383.18 42.60,384.75 42.76,384.75 42.76,386.33 42.92,386.33 42.92,387.90 43.07,387.90 43.07,389.47 43.32,389.47 43.32,390.94 43.57,390.94 43.57,392.42 43.81,392.42 43.81,393.89 44.06,393.89 44.06,395.36 45.33,395.36 45.33,396.84 46.61,396.84 46.61,398.31 48.08,398.31 48.08,399.59 49.56,399.59 49.56,400.86 51.03,400.86 51.03,401.85 52.50,401.85 52.50,402.83 54.47,402.83 54.47,403.52 56.43,403.52 56.43,404.20 58.40,404.20 58.40,404.70 60.36,404.70 60.36,405.19 61.89,405.19 61.89,405.23 63.42,405.23 63.42,405.27 64.95,405.27 64.95,405.32 66.48,405.32 66.48,405.36 68.00,405.36 68.00,405.40 69.53,405.40 69.53,405.45 71.06,405.45 71.06,405.49 72.59,405.49 72.59,405.54 74.12,405.54 74.12,405.58 75.59,405.58 75.59,406.17 77.06,406.17 77.06,406.76 78.78,406.76 78.78,407.00 80.50,407.00 80.50,407.25 82.22,407.25 82.22,407.50 83.94,407.50 83.94,407.74 85.58,407.74 85.58,407.87 87.21,407.87 87.21,408.00 88.85,408.00 88.85,408.13 88.85,408.13 88.85,413.05 92.98,413.05 92.98,413.05 92.98,413.05 92.98,418.94 96.91,418.94 96.91,418.94 96.91,418.94 96.91,424.24 112.43,424.24 112.43,424.24" fill="none" stroke="#19BCC9" stroke-width="1.05" stroke-linejoin="round"/>
<line x1="65.28" y1="404.28" x2="65.28" y2="406.48" stroke="#19BCC9" stroke-width="0.6"/>
<line x1="71.17" y1="404.48" x2="71.17" y2="406.68" stroke="#19BCC9" stroke-width="0.6"/>
<line x1="78.05" y1="405.85" x2="78.05" y2="408.05" stroke="#19BCC9" stroke-width="0.6"/>
<line x1="81.97" y1="406.44" x2="81.97" y2="408.64" stroke="#19BCC9" stroke-width="0.6"/>
<line x1="136.8" y1="368.2" x2="136.8" y2="432.7" stroke="#231f20" stroke-width="0.6"/>
<line x1="136.5" y1="432.7" x2="215" y2="432.7" stroke="#231f20" stroke-width="0.6"/>
<line x1="135.4" y1="371.4" x2="136.8" y2="371.4" stroke="#231f20" stroke-width="0.5"/>
<text x="134.4" y="373.3" font-size="5.5" text-anchor="end" fill="#2e2e30">1.00</text>
<line x1="135.4" y1="385.6" x2="136.8" y2="385.6" stroke="#231f20" stroke-width="0.5"/>
<text x="134.4" y="387.5" font-size="5.5" text-anchor="end" fill="#2e2e30">0.75</text>
<line x1="135.4" y1="400.6" x2="136.8" y2="400.6" stroke="#231f20" stroke-width="0.5"/>
<text x="134.4" y="402.5" font-size="5.5" text-anchor="end" fill="#2e2e30">0.50</text>
<line x1="135.4" y1="415" x2="136.8" y2="415" stroke="#231f20" stroke-width="0.5"/>
<text x="134.4" y="416.9" font-size="5.5" text-anchor="end" fill="#2e2e30">0.25</text>
<line x1="135.4" y1="429.4" x2="136.8" y2="429.4" stroke="#231f20" stroke-width="0.5"/>
<text x="134.4" y="431.3" font-size="5.5" text-anchor="end" fill="#2e2e30">0.00</text>
<line x1="140.3" y1="432.7" x2="140.3" y2="434.09999999999997" stroke="#231f20" stroke-width="0.5"/>
<text x="140.3" y="438.6" font-size="5.5" text-anchor="middle" fill="#2e2e30">0</text>
<line x1="158" y1="432.7" x2="158" y2="434.09999999999997" stroke="#231f20" stroke-width="0.5"/>
<text x="158" y="438.6" font-size="5.5" text-anchor="middle" fill="#2e2e30">400</text>
<line x1="175.7" y1="432.7" x2="175.7" y2="434.09999999999997" stroke="#231f20" stroke-width="0.5"/>
<text x="175.7" y="438.6" font-size="5.5" text-anchor="middle" fill="#2e2e30">800</text>
<line x1="193.8" y1="432.7" x2="193.8" y2="434.09999999999997" stroke="#231f20" stroke-width="0.5"/>
<text x="193.8" y="438.6" font-size="5.5" text-anchor="middle" fill="#2e2e30">1,200</text>
<line x1="211.2" y1="432.7" x2="211.2" y2="434.09999999999997" stroke="#231f20" stroke-width="0.5"/>
<text x="211.2" y="438.6" font-size="5.5" text-anchor="middle" fill="#2e2e30">1,600</text>
<text x="176.3" y="445" font-size="5.7" text-anchor="middle">Time (days)</text>
<text x="136.2" y="353.8" font-size="6.45">Discovery cohort 2: melanoma</text>
<text x="136.2" y="361.3" font-size="6.35">(Gide, <tspan font-style="italic">n</tspan>=73)</text>
<text x="164.3" y="377.9" font-size="5.7"><tspan font-style="italic">P</tspan>-value=0.0052</text>
<polyline points="140.32,372.18 140.60,372.18 140.60,373.67 140.87,373.67 140.87,375.17 141.15,375.17 141.15,376.66 141.42,376.66 141.42,378.15 141.70,378.15 141.70,379.65 141.93,379.65 141.93,381.28 142.16,381.28 142.16,382.92 142.39,382.92 142.39,384.56 142.62,384.56 142.62,386.20 142.85,386.20 142.85,387.83 143.07,387.83 143.07,389.47 143.47,389.47 143.47,391.19 143.86,391.19 143.86,392.91 144.25,392.91 144.25,394.63 144.65,394.63 144.65,396.35 145.43,396.35 145.43,398.31 146.22,398.31 146.22,400.28 147.40,400.28 147.40,401.94 148.58,401.94 148.58,403.61 150.54,403.61 150.54,404.89 152.50,404.89 152.50,406.17 153.98,406.17 153.98,407.15 155.45,407.15 155.45,408.13 156.93,408.13 156.93,408.38 158.40,408.38 158.40,408.62 159.87,408.62 159.87,408.87 161.35,408.87 161.35,409.12 163.31,409.12 163.31,411.47 165.67,411.47 165.67,412.06 166.26,412.06 166.26,414.42 198.67,414.42 198.67,414.42" fill="none" stroke="#F0716A" stroke-width="1.05" stroke-linejoin="round"/>
<line x1="167.24" y1="413.32" x2="167.24" y2="415.52" stroke="#F0716A" stroke-width="0.6"/>
<line x1="173.13" y1="413.32" x2="173.13" y2="415.52" stroke="#F0716A" stroke-width="0.6"/>
<line x1="179.03" y1="413.32" x2="179.03" y2="415.52" stroke="#F0716A" stroke-width="0.6"/>
<line x1="187.87" y1="413.32" x2="187.87" y2="415.52" stroke="#F0716A" stroke-width="0.6"/>
<line x1="197.69" y1="413.32" x2="197.69" y2="415.52" stroke="#F0716A" stroke-width="0.6"/>
<polyline points="140.32,371.39 141.01,371.39 141.01,373.06 141.70,373.06 141.70,374.73 142.19,374.73 142.19,376.70 142.68,376.70 142.68,378.66 143.17,378.66 143.17,380.14 143.66,380.14 143.66,381.61 144.06,381.61 144.06,385.54 145.75,385.54 145.75,385.62 147.44,385.62 147.44,385.70 149.13,385.70 149.13,385.78 150.82,385.78 150.82,385.85 152.50,385.85 152.50,385.93 153.49,385.93 153.49,387.21 154.47,387.21 154.47,388.49 156.43,388.49 156.43,390.45 158.07,390.45 158.07,390.65 159.71,390.65 159.71,390.84 161.35,390.84 161.35,391.04 163.31,391.04 163.31,392.42 172.15,392.42 172.15,392.42 172.64,392.42 172.64,394.09 173.13,394.09 173.13,395.76 177.06,395.76 177.06,395.95 177.55,395.95 177.55,397.62 178.05,397.62 178.05,399.29 210.46,399.29 210.46,399.29" fill="none" stroke="#19BCC9" stroke-width="1.05" stroke-linejoin="round"/>
<line x1="145.63" y1="384.64" x2="145.63" y2="386.84" stroke="#19BCC9" stroke-width="0.6"/>
<line x1="148.58" y1="384.64" x2="148.58" y2="386.84" stroke="#19BCC9" stroke-width="0.6"/>
<line x1="164.29" y1="391.32" x2="164.29" y2="393.52" stroke="#19BCC9" stroke-width="0.6"/>
<line x1="171.17" y1="391.32" x2="171.17" y2="393.52" stroke="#19BCC9" stroke-width="0.6"/>
<line x1="187.48" y1="398.19" x2="187.48" y2="400.39" stroke="#19BCC9" stroke-width="0.6"/>
<line x1="191.8" y1="398.19" x2="191.8" y2="400.39" stroke="#19BCC9" stroke-width="0.6"/>
<line x1="198.67" y1="398.19" x2="198.67" y2="400.39" stroke="#19BCC9" stroke-width="0.6"/>
<line x1="208.5" y1="398.19" x2="208.5" y2="400.39" stroke="#19BCC9" stroke-width="0.6"/>
<line x1="209.87" y1="398.19" x2="209.87" y2="400.39" stroke="#19BCC9" stroke-width="0.6"/>
<line x1="240.3" y1="368" x2="240.3" y2="433" stroke="#231f20" stroke-width="0.6"/>
<line x1="240.0" y1="433" x2="317.5" y2="433" stroke="#231f20" stroke-width="0.6"/>
<line x1="238.9" y1="373.4" x2="240.3" y2="373.4" stroke="#231f20" stroke-width="0.5"/>
<text x="237.9" y="375.3" font-size="5.5" text-anchor="end" fill="#2e2e30">1.00</text>
<line x1="238.9" y1="385.9" x2="240.3" y2="385.9" stroke="#231f20" stroke-width="0.5"/>
<text x="237.9" y="387.8" font-size="5.5" text-anchor="end" fill="#2e2e30">0.75</text>
<line x1="238.9" y1="400.7" x2="240.3" y2="400.7" stroke="#231f20" stroke-width="0.5"/>
<text x="237.9" y="402.6" font-size="5.5" text-anchor="end" fill="#2e2e30">0.50</text>
<line x1="238.9" y1="415" x2="240.3" y2="415" stroke="#231f20" stroke-width="0.5"/>
<text x="237.9" y="416.9" font-size="5.5" text-anchor="end" fill="#2e2e30">0.25</text>
<line x1="238.9" y1="429.4" x2="240.3" y2="429.4" stroke="#231f20" stroke-width="0.5"/>
<text x="237.9" y="431.3" font-size="5.5" text-anchor="end" fill="#2e2e30">0.00</text>
<line x1="243.7" y1="433" x2="243.7" y2="434.4" stroke="#231f20" stroke-width="0.5"/>
<text x="243.7" y="438.9" font-size="5.5" text-anchor="middle" fill="#2e2e30">0</text>
<line x1="261.7" y1="433" x2="261.7" y2="434.4" stroke="#231f20" stroke-width="0.5"/>
<text x="261.7" y="438.9" font-size="5.5" text-anchor="middle" fill="#2e2e30">200</text>
<line x1="279.3" y1="433" x2="279.3" y2="434.4" stroke="#231f20" stroke-width="0.5"/>
<text x="279.3" y="438.9" font-size="5.5" text-anchor="middle" fill="#2e2e30">400</text>
<line x1="297" y1="433" x2="297" y2="434.4" stroke="#231f20" stroke-width="0.5"/>
<text x="297" y="438.9" font-size="5.5" text-anchor="middle" fill="#2e2e30">600</text>
<line x1="314.5" y1="433" x2="314.5" y2="434.4" stroke="#231f20" stroke-width="0.5"/>
<text x="314.5" y="438.9" font-size="5.5" text-anchor="middle" fill="#2e2e30">800</text>
<text x="280.6" y="445" font-size="5.7" text-anchor="middle">Time (days)</text>
<text x="239.2" y="353.8" font-size="6.45">Test cohort 1: mixed</text>
<text x="239.2" y="361.3" font-size="6.35">(Pender, <tspan font-style="italic">n</tspan>=87)</text>
<text x="268.5" y="377.9" font-size="5.7"><tspan font-style="italic">P</tspan>-value=0.012</text>
<polyline points="244.65,371.39 245.63,371.39 245.63,373.75 245.97,373.75 245.97,375.23 246.32,375.23 246.32,376.70 246.66,376.70 246.66,378.17 247.00,378.17 247.00,379.65 247.40,379.65 247.40,381.22 247.79,381.22 247.79,382.79 248.18,382.79 248.18,384.36 248.58,384.36 248.58,385.93 248.97,385.93 248.97,387.50 249.36,387.50 249.36,389.22 249.75,389.22 249.75,390.94 250.15,390.94 250.15,392.66 250.54,392.66 250.54,394.38 250.85,394.38 250.85,395.95 251.17,395.95 251.17,397.52 251.48,397.52 251.48,399.10 251.80,399.10 251.80,400.67 252.11,400.67 252.11,402.24 252.60,402.24 252.60,403.71 253.09,403.71 253.09,405.19 253.59,405.19 253.59,406.66 254.08,406.66 254.08,408.13 254.73,408.13 254.73,409.77 255.39,409.77 255.39,411.41 256.04,411.41 256.04,413.05 257.22,413.05 257.22,415.01 258.40,415.01 258.40,416.97 259.87,416.97 259.87,418.45 261.35,418.45 261.35,419.92 262.82,419.92 262.82,421.20 264.29,421.20 264.29,422.48 266.26,422.48 266.26,423.16 268.22,423.16 268.22,423.85 269.70,423.85 269.70,424.10 271.17,424.10 271.17,424.34 272.64,424.34 272.64,424.59 274.12,424.59 274.12,424.83 276.08,424.83 276.08,425.52 278.05,425.52 278.05,426.21 279.68,426.21 279.68,426.40 281.32,426.40 281.32,426.60 282.96,426.60 282.96,426.80 284.43,426.80 284.43,427.49 285.90,427.49 285.90,428.17 287.62,428.17 287.62,428.42 289.34,428.42 289.34,428.66 291.06,428.66 291.06,428.91 292.78,428.91 292.78,429.16" fill="none" stroke="#F0716A" stroke-width="1.05" stroke-linejoin="round"/>
<polyline points="243.66,371.39 244.94,371.39 244.94,372.57 246.22,372.57 246.22,373.75 246.41,373.75 246.41,375.23 246.61,375.23 246.61,376.70 246.81,376.70 246.81,378.17 247.00,378.17 247.00,379.65 247.40,379.65 247.40,381.37 247.79,381.37 247.79,383.08 248.18,383.08 248.18,384.80 248.58,384.80 248.58,386.52 249.23,386.52 249.23,388.16 249.89,388.16 249.89,389.80 250.54,389.80 250.54,391.43 250.87,391.43 250.87,393.07 251.20,393.07 251.20,394.71 251.52,394.71 251.52,396.35 252.01,396.35 252.01,397.82 252.50,397.82 252.50,399.29 254.47,399.29 254.47,400.28 255.94,400.28 255.94,402.24 257.42,402.24 257.42,404.20 258.40,404.20 258.40,405.84 259.38,405.84 259.38,407.48 260.36,407.48 260.36,409.12 261.84,409.12 261.84,410.29 263.31,410.29 263.31,411.47 272.15,411.47 272.15,411.47 273.13,411.47 273.13,413.44 274.77,413.44 274.77,413.83 276.41,413.83 276.41,414.22 278.05,414.22 278.05,414.62 288.85,414.62 288.85,414.62 289.34,414.62 289.34,416.29 289.83,416.29 289.83,417.96 291.45,417.96 291.45,417.98 293.06,417.98 293.06,418.01 294.67,418.01 294.67,418.04 296.29,418.04 296.29,418.07 297.90,418.07 297.90,418.10 299.52,418.10 299.52,418.13 301.13,418.13 301.13,418.15 302.74,418.15 302.74,418.18 304.36,418.18 304.36,418.21 305.97,418.21 305.97,418.24 307.58,418.24 307.58,418.27 309.20,418.27 309.20,418.29 310.81,418.29 310.81,418.32 312.43,418.32 312.43,418.35 312.82,418.35 312.82,418.35 312.82,418.35 312.82,429.35" fill="none" stroke="#19BCC9" stroke-width="1.05" stroke-linejoin="round"/>
<line x1="273.13" y1="411.95" x2="273.13" y2="414.15" stroke="#19BCC9" stroke-width="0.6"/>
<line x1="278.05" y1="413.52" x2="278.05" y2="415.72" stroke="#19BCC9" stroke-width="0.6"/>
<line x1="291.8" y1="417.05" x2="291.8" y2="419.25" stroke="#19BCC9" stroke-width="0.6"/>
<line x1="298.67" y1="417.05" x2="298.67" y2="419.25" stroke="#19BCC9" stroke-width="0.6"/>
<line x1="309.48" y1="417.25" x2="309.48" y2="419.45" stroke="#19BCC9" stroke-width="0.6"/>
<line x1="340.7" y1="368.8" x2="340.7" y2="431.8" stroke="#231f20" stroke-width="0.6"/>
<line x1="340.4" y1="431.8" x2="417" y2="431.8" stroke="#231f20" stroke-width="0.6"/>
<line x1="339.3" y1="371.4" x2="340.7" y2="371.4" stroke="#231f20" stroke-width="0.5"/>
<text x="338.3" y="373.3" font-size="5.5" text-anchor="end" fill="#2e2e30">1.00</text>
<line x1="339.3" y1="385.5" x2="340.7" y2="385.5" stroke="#231f20" stroke-width="0.5"/>
<text x="338.3" y="387.4" font-size="5.5" text-anchor="end" fill="#2e2e30">0.75</text>
<line x1="339.3" y1="400.3" x2="340.7" y2="400.3" stroke="#231f20" stroke-width="0.5"/>
<text x="338.3" y="402.2" font-size="5.5" text-anchor="end" fill="#2e2e30">0.50</text>
<line x1="339.3" y1="414.4" x2="340.7" y2="414.4" stroke="#231f20" stroke-width="0.5"/>
<text x="338.3" y="416.3" font-size="5.5" text-anchor="end" fill="#2e2e30">0.25</text>
<line x1="339.3" y1="428.4" x2="340.7" y2="428.4" stroke="#231f20" stroke-width="0.5"/>
<text x="338.3" y="430.3" font-size="5.5" text-anchor="end" fill="#2e2e30">0.00</text>
<line x1="344" y1="431.8" x2="344" y2="433.2" stroke="#231f20" stroke-width="0.5"/>
<text x="344" y="437.7" font-size="5.5" text-anchor="middle" fill="#2e2e30">0</text>
<line x1="362.3" y1="431.8" x2="362.3" y2="433.2" stroke="#231f20" stroke-width="0.5"/>
<text x="362.3" y="437.7" font-size="5.5" text-anchor="middle" fill="#2e2e30">200</text>
<line x1="379.6" y1="431.8" x2="379.6" y2="433.2" stroke="#231f20" stroke-width="0.5"/>
<text x="379.6" y="437.7" font-size="5.5" text-anchor="middle" fill="#2e2e30">400</text>
<line x1="397.1" y1="431.8" x2="397.1" y2="433.2" stroke="#231f20" stroke-width="0.5"/>
<text x="397.1" y="437.7" font-size="5.5" text-anchor="middle" fill="#2e2e30">600</text>
<line x1="414.4" y1="431.8" x2="414.4" y2="433.2" stroke="#231f20" stroke-width="0.5"/>
<text x="414.4" y="437.7" font-size="5.5" text-anchor="middle" fill="#2e2e30">800</text>
<text x="381" y="445" font-size="5.7" text-anchor="middle">Time (days)</text>
<text x="335" y="353.8" font-size="6.45">Test cohort 2: CRC</text>
<text x="335" y="361.3" font-size="6.05">(Ratovomanana, <tspan font-style="italic">n</tspan>=24)</text>
<text x="377" y="414.5" font-size="5.7"><tspan font-style="italic">P</tspan>-value=0.117</text>
<polyline points="344.65,372.18 344.65,377.68 350.34,377.68 350.34,381.61 353.68,381.61 353.68,386.52 354.47,386.52 354.47,391.04 402.60,391.04" fill="none" stroke="#F0716A" stroke-width="1.05" stroke-linejoin="round"/>
<line x1="380.01" y1="389.94" x2="380.01" y2="392.14" stroke="#F0716A" stroke-width="0.6"/>
<line x1="381.97" y1="389.94" x2="381.97" y2="392.14" stroke="#F0716A" stroke-width="0.6"/>
<line x1="384.92" y1="389.94" x2="384.92" y2="392.14" stroke="#F0716A" stroke-width="0.6"/>
<line x1="394.74" y1="389.94" x2="394.74" y2="392.14" stroke="#F0716A" stroke-width="0.6"/>
<line x1="401.62" y1="389.94" x2="401.62" y2="392.14" stroke="#F0716A" stroke-width="0.6"/>
<polyline points="344.06,372.18 356.83,372.18 356.83,377.09 411.44,377.09" fill="none" stroke="#19BCC9" stroke-width="1.05" stroke-linejoin="round"/>
<line x1="379.62" y1="375.99" x2="379.62" y2="378.19" stroke="#19BCC9" stroke-width="0.6"/>
<line x1="381.97" y1="375.99" x2="381.97" y2="378.19" stroke="#19BCC9" stroke-width="0.6"/>
<line x1="387.48" y1="375.99" x2="387.48" y2="378.19" stroke="#19BCC9" stroke-width="0.6"/>
<line x1="391.8" y1="375.99" x2="391.8" y2="378.19" stroke="#19BCC9" stroke-width="0.6"/>
<line x1="409.48" y1="375.99" x2="409.48" y2="378.19" stroke="#19BCC9" stroke-width="0.6"/>
<line x1="410.85" y1="375.99" x2="410.85" y2="378.19" stroke="#19BCC9" stroke-width="0.6"/>
<line x1="440.6" y1="368.8" x2="440.6" y2="431.8" stroke="#231f20" stroke-width="0.6"/>
<line x1="440.3" y1="431.8" x2="518" y2="431.8" stroke="#231f20" stroke-width="0.6"/>
<line x1="439.20000000000005" y1="372.2" x2="440.6" y2="372.2" stroke="#231f20" stroke-width="0.5"/>
<text x="438.20000000000005" y="374.1" font-size="5.5" text-anchor="end" fill="#2e2e30">1.00</text>
<line x1="439.20000000000005" y1="386.1" x2="440.6" y2="386.1" stroke="#231f20" stroke-width="0.5"/>
<text x="438.20000000000005" y="388.0" font-size="5.5" text-anchor="end" fill="#2e2e30">0.75</text>
<line x1="439.20000000000005" y1="400.7" x2="440.6" y2="400.7" stroke="#231f20" stroke-width="0.5"/>
<text x="438.20000000000005" y="402.6" font-size="5.5" text-anchor="end" fill="#2e2e30">0.50</text>
<line x1="439.20000000000005" y1="414.6" x2="440.6" y2="414.6" stroke="#231f20" stroke-width="0.5"/>
<text x="438.20000000000005" y="416.5" font-size="5.5" text-anchor="end" fill="#2e2e30">0.25</text>
<line x1="439.20000000000005" y1="429.2" x2="440.6" y2="429.2" stroke="#231f20" stroke-width="0.5"/>
<text x="438.20000000000005" y="431.1" font-size="5.5" text-anchor="end" fill="#2e2e30">0.00</text>
<line x1="441.2" y1="431.8" x2="441.2" y2="433.2" stroke="#231f20" stroke-width="0.5"/>
<text x="441.2" y="437.7" font-size="5.5" text-anchor="middle" fill="#2e2e30">0</text>
<line x1="459.9" y1="431.8" x2="459.9" y2="433.2" stroke="#231f20" stroke-width="0.5"/>
<text x="459.9" y="437.7" font-size="5.5" text-anchor="middle" fill="#2e2e30">400</text>
<line x1="478.5" y1="431.8" x2="478.5" y2="433.2" stroke="#231f20" stroke-width="0.5"/>
<text x="478.5" y="437.7" font-size="5.5" text-anchor="middle" fill="#2e2e30">800</text>
<line x1="496.2" y1="431.8" x2="496.2" y2="433.2" stroke="#231f20" stroke-width="0.5"/>
<text x="496.2" y="437.7" font-size="5.5" text-anchor="middle" fill="#2e2e30">1,200</text>
<line x1="512.2" y1="431.8" x2="512.2" y2="433.2" stroke="#231f20" stroke-width="0.5"/>
<text x="512.2" y="437.7" font-size="5.5" text-anchor="middle" fill="#2e2e30">1,600</text>
<text x="477" y="445" font-size="5.7" text-anchor="middle">Time (days)</text>
<text x="438" y="353.8" font-size="6.45">Test cohort 3: melanoma</text>
<text x="438" y="361.3" font-size="6.35">(Freeman <tspan font-style="italic">n</tspan>=31)</text>
<text x="444" y="414.5" font-size="5.7"><tspan font-style="italic">P</tspan>-value=0.249</text>
<polyline points="444.56,372.18 472.06,372.18 472.06,381.22 477.56,381.22 477.56,393.40 483.85,393.40 483.85,405.58 487.78,405.58 487.78,428.76" fill="none" stroke="#F0716A" stroke-width="1.05" stroke-linejoin="round"/>
<line x1="450.45" y1="371.08" x2="450.45" y2="373.28" stroke="#F0716A" stroke-width="0.6"/>
<line x1="456.35" y1="371.08" x2="456.35" y2="373.28" stroke="#F0716A" stroke-width="0.6"/>
<line x1="462.24" y1="371.08" x2="462.24" y2="373.28" stroke="#F0716A" stroke-width="0.6"/>
<line x1="470.1" y1="371.08" x2="470.1" y2="373.28" stroke="#F0716A" stroke-width="0.6"/>
<polyline points="444.56,372.18 467.15,372.18 467.15,381.22 479.92,381.22 479.92,393.01 489.94,393.01 489.94,399.29 491.51,399.29 491.51,405.58 497.01,405.58 497.01,411.47 504.48,411.47 504.48,417.37 514.30,417.37 514.30,423.26 516.27,423.26 516.27,428.76" fill="none" stroke="#19BCC9" stroke-width="1.05" stroke-linejoin="round"/>
<line x1="447.5" y1="371.08" x2="447.5" y2="373.28" stroke="#19BCC9" stroke-width="0.6"/>
<line x1="453.4" y1="371.08" x2="453.4" y2="373.28" stroke="#19BCC9" stroke-width="0.6"/>
<line x1="459.29" y1="371.08" x2="459.29" y2="373.28" stroke="#19BCC9" stroke-width="0.6"/>
<line x1="465.19" y1="371.08" x2="465.19" y2="373.28" stroke="#19BCC9" stroke-width="0.6"/>
<line x1="474.03" y1="380.12" x2="474.03" y2="382.32" stroke="#19BCC9" stroke-width="0.6"/>
</g>
</svg>
</body>
</html>
